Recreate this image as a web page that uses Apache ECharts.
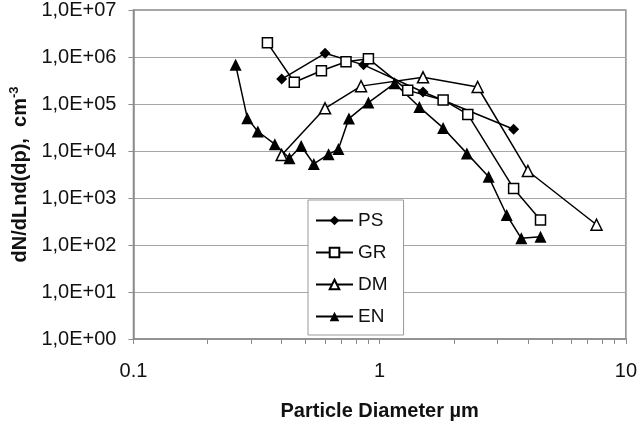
<!DOCTYPE html>
<html>
<head>
<meta charset="utf-8">
<script src="https://cdn.jsdelivr.net/npm/echarts@6/dist/echarts.min.js"></script>
<style>
  html, body { margin: 0; padding: 0; background: #fff; }
  #chart { width: 640px; height: 427px; }
</style>
</head>
<body>
<div id="chart"></div>
<script>
// particle diameter (um) and dN/dLnd(dp)
const psX = [0.40, 0.60, 0.86, 1.50, 3.5];
const psY = [3.4e5, 1.2e6, 6.8e5, 1.8e5, 2.9e4];

const grX = [0.35, 0.45, 0.58, 0.73, 0.90, 1.30, 1.81, 2.28, 3.5, 4.5];
const grY = [2.0e6, 2.9e5, 5.1e5, 7.9e5, 9.2e5, 1.95e5, 1.22e5, 6.0e4, 1.6e3, 340];

const dmX = [0.40, 0.60, 0.84, 1.50, 2.50, 4.0, 7.6];
const dmY = [8.2e3, 8.1e4, 2.4e5, 3.7e5, 2.3e5, 3.75e3, 270];

const enX = [0.26, 0.29, 0.32, 0.375, 0.43, 0.48, 0.54, 0.62, 0.68, 0.75, 0.90, 1.15, 1.45, 1.81, 2.26, 2.77, 3.28, 3.76, 4.5];
const enY = [6.8e5, 5.0e4, 2.6e4, 1.4e4, 7.0e3, 1.28e4, 5.3e3, 8.5e3, 1.1e4, 4.9e4, 1.07e5, 2.75e5, 8.6e4, 3.1e4, 8.9e3, 2.84e3, 435, 139, 150];

const xTicks = [0.1, 0.2, 0.3, 0.4, 0.5, 0.6, 0.7, 0.8, 0.9, 1, 2, 3, 4, 5, 6, 7, 8, 9, 10];
const xLabels = [0.1, 1, 10];

const pairs = (xs, ys) => xs.map((x, i) => [x, ys[i]]);

const chart = echarts.init(document.getElementById('chart'), null, { width: 640, height: 427 });

const font = 'Liberation Sans, Arial, sans-serif';
const frame = '#8c8c8c';

const line = { color: '#000', width: 1.5 };

const option = {
  animation: false,
  textStyle: { fontFamily: font, color: '#111' },
  grid: {
    left: 130, top: 10, right: 13, bottom: 88,
    show: true, borderColor: frame, borderWidth: 1.5, backgroundColor: '#fff'
  },
  xAxis: {
    type: 'log', logBase: 10, min: 0.1, max: 10,
    name: 'Particle Diameter \u00b5m',
    nameLocation: 'middle', nameGap: 62,
    nameTextStyle: { fontSize: 20, fontWeight: 'bold', color: '#111', fontFamily: font },
    axisLine: { lineStyle: { color: frame, width: 1.5 } },
    axisTick: { show: true, length: 5, customValues: xTicks, lineStyle: { color: frame, width: 1 } },
    axisLabel: { fontSize: 20, color: '#111', margin: 22, customValues: xLabels,
      formatter: v => String(v) },
    splitLine: { show: false }
  },
  yAxis: {
    type: 'log', logBase: 10, min: 1, max: 1e7, interval: 1,
    name: '{a|dN/dLnd(dp),  cm}{s|-3}',
    nameLocation: 'middle', nameRotate: 90, nameGap: 100,
    nameTextStyle: {
      rich: {
        a: { fontSize: 20, fontWeight: 'bold', color: '#111', fontFamily: font },
        s: { fontSize: 13, fontWeight: 'bold', color: '#111', fontFamily: font, padding: [0, 0, 12, 0] }
      }
    },
    axisLine: { show: true, lineStyle: { color: frame, width: 1.5 } },
    axisTick: { show: true, length: 5, lineStyle: { color: frame, width: 1 } },
    axisLabel: { fontSize: 20, color: '#111', margin: 17,
      formatter: v => '1,0E+' + String(Math.round(Math.log10(v))).padStart(2, '0') },
    splitLine: { show: true, lineStyle: { color: '#a6a6a6', width: 1 } }
  },
  legend: {
    orient: 'vertical', left: 308, top: 200,
    backgroundColor: '#fff', borderColor: '#999', borderWidth: 1,
    padding: [11, 16, 9, 7], itemGap: 13, itemWidth: 37, itemHeight: 12,
    textStyle: { fontSize: 19, color: '#111', fontFamily: font },
    data: ['PS', 'GR', 'DM', 'EN']
  },
  series: [
    { name: 'PS', type: 'line', data: pairs(psX, psY), symbol: 'diamond', symbolSize: 11,
      lineStyle: line, itemStyle: { color: '#000' } },
    { name: 'GR', type: 'line', data: pairs(grX, grY), symbol: 'rect', symbolSize: 10,
      lineStyle: line, itemStyle: { color: '#fff', borderColor: '#000', borderWidth: 1.5 } },
    { name: 'DM', type: 'line', data: pairs(dmX, dmY), symbol: 'triangle', symbolSize: 11,
      lineStyle: line, itemStyle: { color: '#fff', borderColor: '#000', borderWidth: 1.5 } },
    { name: 'EN', type: 'line', data: pairs(enX, enY), symbol: 'triangle', symbolSize: 12,
      lineStyle: line, itemStyle: { color: '#000' } }
  ]
};

chart.setOption(option);
</script>
</body>
</html>
